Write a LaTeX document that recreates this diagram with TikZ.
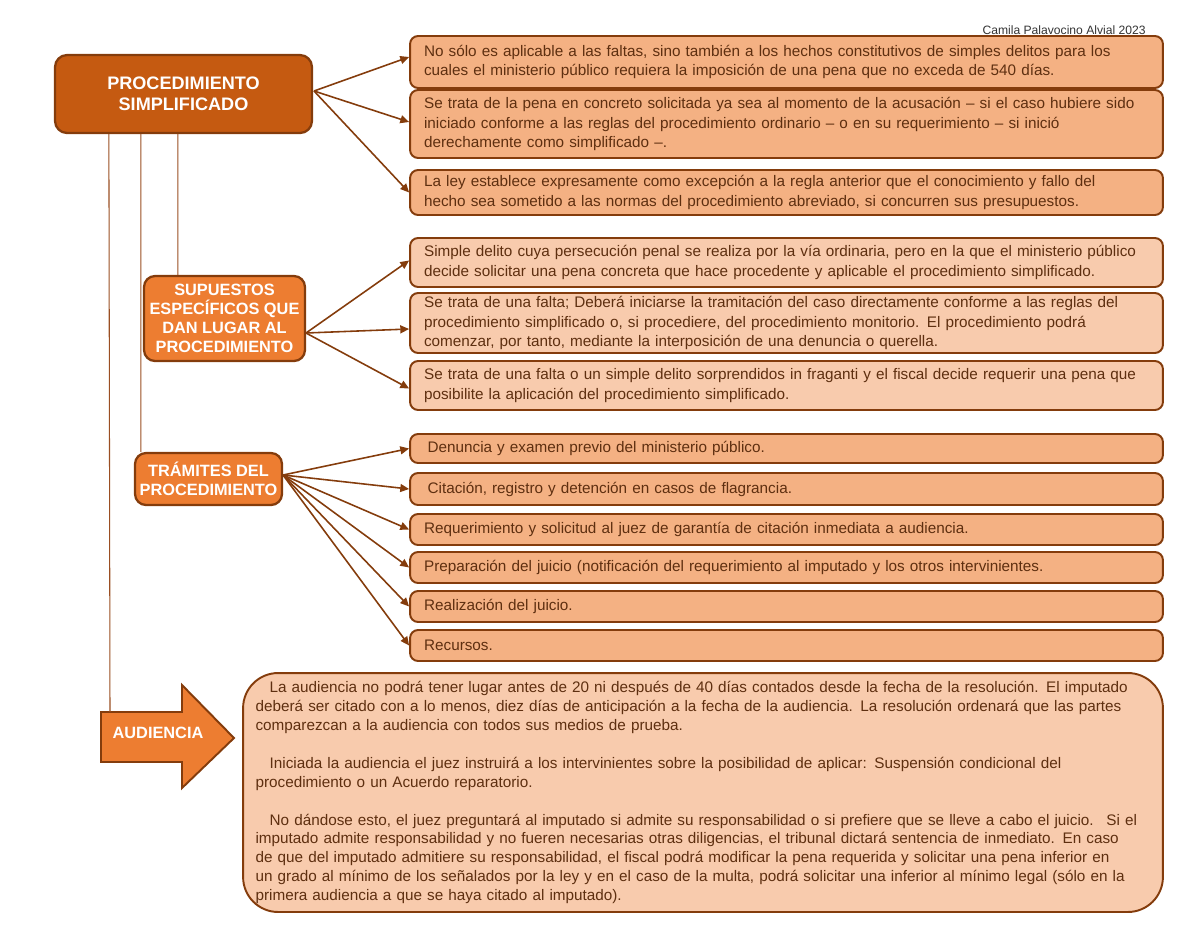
\documentclass[tikz,border=0pt]{standalone}
\usepackage{fontspec}
\setmainfont{Liberation Sans}
\usetikzlibrary{arrows.meta,calc}
\definecolor{dk}{HTML}{843C0C}
\definecolor{mainfill}{HTML}{C55A11}
\definecolor{subfill}{HTML}{ED7D31}
\definecolor{fillA}{HTML}{F4B183}
\definecolor{fillB}{HTML}{F8CBAD}
\definecolor{txt}{HTML}{5E2F10}
\definecolor{vl}{HTML}{9A4E22}
\begin{document}
\begin{tikzpicture}[x=0.02cm,y=-0.02cm,
  txtbox/.style={draw=dk, line width=1.1pt, rounded corners=0.16cm, align=left,
    text width=14.5cm, inner xsep=0.28cm, inner ysep=0pt, minimum height=#1,
    font=\fontsize{8.7}{10.9}\selectfont, text=txt},
  headbox/.style={draw=dk, line width=1.3pt, rounded corners=0.22cm, align=center,
    fill=subfill, text=white, inner sep=0pt, font=\bfseries\fontsize{9.3}{10.8}\selectfont},
  conn/.style={draw=dk, line width=0.9pt, -{Triangle[length=5pt,width=4.5pt]}},
  vline/.style={draw=vl, line width=0.6pt}]
\useasboundingbox (0,0) rectangle (1200,927);

\node[anchor=east, inner sep=0pt, font=\fontsize{6.9}{8}\selectfont, text=black!80] (credit) at (1146,30) {Camila Palavocino Alvial 2023};

% main box
\node[draw=dk, line width=1.3pt, rounded corners=0.24cm, fill=mainfill, text=white,
  minimum width=5.14cm, minimum height=1.56cm, align=center, inner sep=0pt,
  font=\bfseries\fontsize{10.3}{12}\selectfont] (main) at (183.5,94) {PROCEDIMIENTO\\SIMPLIFICADO};

% group A
\node[txtbox=1.04cm, fill=fillA] (a1) at (786.5,62) {No sólo es aplicable a las faltas, sino también a los hechos constitutivos de simples delitos para los\\cuales el ministerio público requiera la imposición de una pena que no exceda de 540 días.};
\node[txtbox=1.36cm, fill=fillA] (a2) at (786.5,124) {Se trata de la pena en concreto solicitada ya sea al momento de la acusación – si el caso hubiere sido\\iniciado conforme a las reglas del procedimiento ordinario – o en su requerimiento – si inició\\derechamente como simplificado –.};
\node[txtbox=0.9cm, fill=fillA] (a3) at (786.5,192.5) {La ley establece expresamente como excepción a la regla anterior que el conocimiento y fallo del\\hecho sea sometido a las normas del procedimiento abreviado, si concurren sus presupuestos.};

% group B
\node[headbox, minimum width=3.22cm, minimum height=1.7cm] (sup) at (224.5,318.5) {SUPUESTOS\\ESPECÍFICOS QUE\\DAN LUGAR AL\\PROCEDIMIENTO};
\node[txtbox=0.98cm, fill=fillB] (b1) at (786.5,262.5) {Simple delito cuya persecución penal se realiza por la vía ordinaria, pero en la que el ministerio público\\decide solicitar una pena concreta que hace procedente y aplicable el procedimiento simplificado.};
\node[txtbox=1.2cm, fill=fillB] (b2) at (786.5,323) {Se trata de una falta; Deberá iniciarse la tramitación del caso directamente conforme a las reglas del\\procedimiento simplificado o, si procediere, del procedimiento monitorio. El procedimiento podrá\\comenzar, por tanto, mediante la interposición de una denuncia o querella.};
\node[txtbox=0.98cm, fill=fillB] (b3) at (786.5,385.5) {Se trata de una falta o un simple delito sorprendidos in fraganti y el fiscal decide requerir una pena que\\posibilite la aplicación del procedimiento simplificado.};

% group C
\node[headbox, minimum width=2.94cm, minimum height=1.04cm] (tra) at (208.5,479) {TRÁMITES DEL\\PROCEDIMIENTO};
\node[txtbox=0.58cm, fill=fillA] (c1) at (786.5,448.5) {\hspace*{2pt}Denuncia y examen previo del ministerio público.};
\node[txtbox=0.64cm, fill=fillA] (c2) at (786.5,489) {\hspace*{2pt}Citación, registro y detención en casos de flagrancia.};
\node[txtbox=0.62cm, fill=fillA] (c3) at (786.5,529.5) {Requerimiento y solicitud al juez de garantía de citación inmediata a audiencia.};
\node[txtbox=0.62cm, fill=fillA] (c4) at (786.5,567.5) {Preparación del juicio (notificación del requerimiento al imputado y los otros intervinientes.};
\node[txtbox=0.62cm, fill=fillA] (c5) at (786.5,606.5) {Realización del juicio.};
\node[txtbox=0.62cm, fill=fillA] (c6) at (786.5,645.5) {Recursos.};

% audiencia arrow
\draw[draw=dk, line width=1.1pt, fill=subfill] (101,712) -- (182,712) -- (182,685) -- (234,738) -- (182,788) -- (182,762) -- (101,762) -- cycle;
\node[text=white, inner sep=0pt, font=\bfseries\fontsize{9.3}{10}\selectfont] (aud) at (158,733) {AUDIENCIA};
\coordinate (audtop) at (110,712);

\node[draw=dk, line width=1.1pt, rounded corners=0.7cm, fill=fillB, text=txt, align=left,
  text width=17.9cm, inner xsep=0.25cm, inner ysep=0pt, minimum height=4.78cm,
  font=\fontsize{8.7}{10.8}\selectfont] (audbox) at (703,792.5) {%
\hspace*{8pt}La audiencia no podrá tener lugar antes de 20 ni después de 40 días contados desde la fecha de la resolución. El imputado\\
deberá ser citado con a lo menos, diez días de anticipación a la fecha de la audiencia. La resolución ordenará que las partes\\
comparezcan a la audiencia con todos sus medios de prueba.\\[10.8pt]
\hspace*{8pt}Iniciada la audiencia el juez instruirá a los intervinientes sobre la posibilidad de aplicar: Suspensión condicional del\\
procedimiento o un Acuerdo reparatorio.\\[10.8pt]
\hspace*{8pt}No dándose esto, el juez preguntará al imputado si admite su responsabilidad o si prefiere que se lleve a cabo el juicio.~ Si el\\
imputado admite responsabilidad y no fueren necesarias otras diligencias, el tribunal dictará sentencia de inmediato. En caso\\
de que del imputado admitiere su responsabilidad, el fiscal podrá modificar la pena requerida y solicitar una pena inferior en\\
un grado al mínimo de los señalados por la ley y en el caso de la multa, podrá solicitar una inferior al mínimo legal (sólo en la\\
primera audiencia a que se haya citado al imputado).};

% vertical connectors
\draw[vline] ($(main.south west)+(55,0)$) -- (audtop);
\draw[vline] ($(main.south west)+(87,0)$) -- ($(tra.north west)+(7,0)$);
\draw[vline] ($(main.south west)+(124,0)$) -- ($(sup.north west)+(35,0)$);

% arrows
\coordinate (mainout) at (314,91);
\draw[conn] (mainout) -- ($(a1.west)+(0,-5)$);
\draw[conn] (mainout) -- ($(a2.west)+(0,-2)$);
\draw[conn] (mainout) -- (a3.west);
\coordinate (supout) at (306,333);
\draw[conn] (supout) -- ($(b1.west)+(0,-2)$);
\draw[conn] (supout) -- ($(b2.west)+(0,6)$);
\draw[conn] (supout) -- ($(b3.west)+(0,3)$);
\coordinate (traout) at (283,475);
\draw[conn] (traout) -- (c1.west);
\draw[conn] (traout) -- (c2.west);
\draw[conn] (traout) -- (c3.west);
\draw[conn] (traout) -- (c4.west);
\draw[conn] (traout) -- (c5.west);
\draw[conn] (traout) -- (c6.west);
\end{tikzpicture}
\end{document}
